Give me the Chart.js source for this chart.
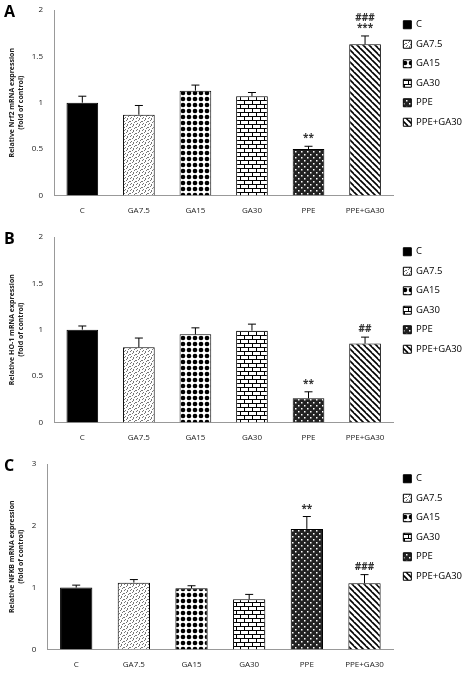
<!DOCTYPE html>
<html>
<head>
<meta charset="utf-8">
<script src="https://cdn.jsdelivr.net/npm/chart.js@4"></script>
<style>
  body { margin: 0; background: #fff; font-family: "Open Sans", sans-serif; }
  .panel { position: relative; width: 474px; height: 227px; }
  .panel .tag { position: absolute; left: 4px; top: 0px; font: bold 16px "Open Sans", sans-serif; }
</style>
</head>
<body>
<div class="panel"><div class="tag">A</div><canvas id="chartA"></canvas></div>
<div class="panel"><div class="tag">B</div><canvas id="chartB"></canvas></div>
<div class="panel"><div class="tag">C</div><canvas id="chartC"></canvas></div>
<script>
// Data
const categories = ["C", "GA7.5", "GA15", "GA30", "PPE", "PPE+GA30"];

const nrf2Values = [1.0, 0.87, 1.13, 1.07, 0.5, 1.63];
const nrf2Errors = [0.07, 0.1, 0.06, 0.04, 0.03, 0.09];
const nrf2Marks = ["", "", "", "", "**", "###\n***"];

const ho1Values = [1.0, 0.81, 0.95, 0.99, 0.26, 0.85];
const ho1Errors = [0.04, 0.1, 0.07, 0.07, 0.07, 0.07];
const ho1Marks = ["", "", "", "", "**", "##"];

const nfkbValues = [1.0, 1.08, 0.99, 0.81, 1.95, 1.07];
const nfkbErrors = [0.04, 0.05, 0.04, 0.08, 0.2, 0.14];
const nfkbMarks = ["", "", "", "", "**", "###"];

// Fill patterns
function makePattern(type) {
  const c = document.createElement("canvas");
  const s = type === "brick" ? 8 : 6;
  c.width = s; c.height = s;
  const g = c.getContext("2d");
  g.fillStyle = "#fff";
  g.fillRect(0, 0, s, s);
  g.fillStyle = "#000";
  g.strokeStyle = "#000";
  if (type === "solid") {
    g.fillRect(0, 0, s, s);
  } else if (type === "fine") {
    g.fillStyle = "#777";
    for (let i = 0; i < s; i += 2) { g.fillRect(i, i, 1, 1); g.fillRect((i + 3) % s, i + 1, 1, 1); }
    g.fillRect(1, 4, 1, 1); g.fillRect(4, 1, 1, 1);
  } else if (type === "diamond") {
    g.beginPath();
    g.arc(3, 3, 2.3, 0, Math.PI * 2);
    g.fill();
  } else if (type === "brick") {
    g.lineWidth = 1;
    g.beginPath();
    g.moveTo(0, 0.5); g.lineTo(8, 0.5);
    g.moveTo(0, 4.5); g.lineTo(8, 4.5);
    g.moveTo(0.5, 0); g.lineTo(0.5, 4);
    g.moveTo(4.5, 4); g.lineTo(4.5, 8);
    g.stroke();
  } else if (type === "dots") {
    g.fillStyle = "#222";
    g.fillRect(0, 0, s, s);
    g.fillStyle = "#fff";
    g.fillRect(1, 1, 1.5, 1.5);
    g.fillRect(4, 4, 1.5, 1.5);
  } else if (type === "stripes") {
    g.lineWidth = 1.6;
    g.beginPath();
    g.moveTo(0, 0); g.lineTo(s, s);
    g.moveTo(-s, 0); g.lineTo(0, s);
    g.moveTo(0, -s); g.lineTo(s * 2, s);
    g.stroke();
  }
  return g.createPattern(c, "repeat");
}
const fills = ["solid", "fine", "diamond", "brick", "dots", "stripes"].map(makePattern);

// Error bars and significance marks
const errorBars = {
  id: "errorBars",
  afterDatasetsDraw(chart, args, opts) {
    const ctx = chart.ctx;
    const y = chart.scales.y;
    const meta = chart.getDatasetMeta(0);
    ctx.save();
    ctx.strokeStyle = "#000";
    ctx.lineWidth = 1;
    meta.data.forEach((bar, i) => {
      const v = opts.values[i];
      const top = y.getPixelForValue(v + opts.errors[i]);
      const base = y.getPixelForValue(v);
      ctx.beginPath();
      ctx.moveTo(bar.x, base); ctx.lineTo(bar.x, top);
      ctx.moveTo(bar.x - 4, top); ctx.lineTo(bar.x + 4, top);
      ctx.stroke();
      const lines = opts.marks[i] ? opts.marks[i].split("\n") : [];
      ctx.fillStyle = "#333";
      ctx.font = "bold 10px 'Open Sans'";
      ctx.textAlign = "center";
      lines.reverse().forEach((t, k) => {
        ctx.fillText(t, bar.x, top - 5 - k * 10);
      });
    });
    ctx.restore();
  }
};

function drawChart(id, values, errors, marks, yMax, yStep, yTitle) {
  new Chart(document.getElementById(id), {
    type: "bar",
    data: {
      labels: categories,
      datasets: [{
        data: values,
        backgroundColor: fills,
        borderColor: "#000",
        borderWidth: 1,
        categoryPercentage: 0.7,
        barPercentage: 0.8
      }]
    },
    options: {
      responsive: true,
      maintainAspectRatio: false,
      animation: false,
      layout: { padding: { top: 10, left: 4, right: 2, bottom: 8 } },
      plugins: {
        tooltip: { enabled: false },
        errorBars: { values, errors, marks },
        legend: {
          position: "right",
          align: "start",
          labels: {
            boxWidth: 8,
            boxHeight: 8,
            padding: 10,
            color: "#222",
            font: { size: 9.5, family: "Open Sans" },
            generateLabels: () => categories.map((c, i) => ({
              text: c, fillStyle: fills[i], strokeStyle: "#000", lineWidth: 1, index: i
            }))
          }
        }
      },
      scales: {
        x: {
          grid: { display: false },
          border: { color: "#999" },
          ticks: { color: "#222", font: { size: 8, family: "Open Sans" } }
        },
        y: {
          min: 0, max: yMax,
          grid: { display: false, drawTicks: true },
          border: { color: "#999" },
          ticks: { stepSize: yStep, color: "#222", font: { size: 8, family: "Open Sans" }, callback: v => String(v) },
          title: { display: true, text: yTitle, color: "#222", font: { size: 7, weight: "bold", family: "Open Sans" } }
        }
      }
    },
    plugins: [errorBars]
  });
}

drawChart("chartA", nrf2Values, nrf2Errors, nrf2Marks, 2, 0.5, ["Relative Nrf2 mRNA expression", "(fold of control)"]);
drawChart("chartB", ho1Values, ho1Errors, ho1Marks, 2, 0.5, ["Relative HO-1 mRNA expression", "(fold of control)"]);
drawChart("chartC", nfkbValues, nfkbErrors, nfkbMarks, 3, 1, ["Relative NFKB mRNA expression", "(fold of control)"]);
</script>
</body>
</html>
